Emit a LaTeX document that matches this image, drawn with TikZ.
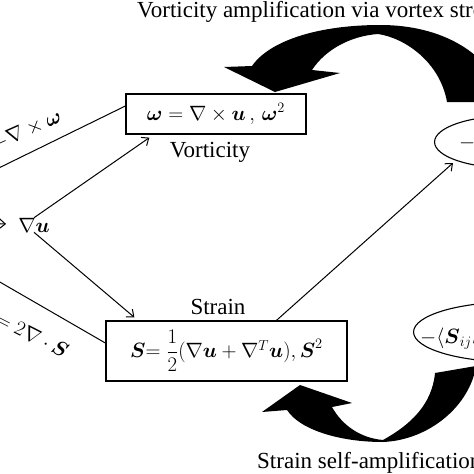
\documentclass[tikz,border=0pt]{standalone}
\usepackage{amsmath}
\usepackage{fontspec}
\setmainfont{Liberation Serif}
\usetikzlibrary{shapes.geometric,arrows.meta}

\begin{document}
\begin{tikzpicture}[x=1pt, y=-1pt, >={Straight Barb[length=6pt,width=10pt]},
  every node/.style={font=\fontsize{22}{26}\selectfont, inner sep=0pt},
  lbl/.style={font=\fontsize{23}{28}\selectfont},
  eqbox/.style={draw, line width=1.3pt},
  termoval/.style={draw, ellipse, line width=1.1pt, anchor=west},
  link/.style={line width=1pt}]
  \useasboundingbox (0,0) rectangle (474,474);
  \clip (0,0) rectangle (474,474);
  % equations
  \node[eqbox, minimum width=180pt, minimum height=40pt] (vort) at (216,114) {$\boldsymbol{\omega}=\nabla\times\boldsymbol{u}\,,\,\boldsymbol{\omega}^2$};
  \node[lbl, anchor=base] (vortlbl) at (210,157) {Vorticity};
  \node[eqbox, minimum width=241pt, minimum height=60pt] (strain) at (226.5,351) {$\boldsymbol{S}{=}\;\dfrac{1}{2}(\nabla\boldsymbol{u}+\nabla^{T}\boldsymbol{u}),\boldsymbol{S}^2$};
  \node[lbl, anchor=base] (strainlbl) at (218,314) {Strain};
  \node (gradu) at (34,225) {$\nabla\boldsymbol{u}$};
  \coordinate (uin) at (-20,223);
  \coordinate (curlin) at (-40,187);
  \coordinate (divin) at (-40,259);
  \node[rotate=24, anchor=base east] (curllbl) at (63,121) {$\nabla^2\boldsymbol{u}=-\nabla\times\boldsymbol{\omega}$};
  \node[rotate=-27, anchor=base east] (divlbl) at (64,359) {$\nabla^2\boldsymbol{u}=2\nabla\cdot\boldsymbol{S}$};
  % source terms
  \node[termoval, minimum width=150pt, minimum height=52pt] (stretch) at (434,142) {};
  \node[anchor=base west] (stretchtxt) at (459,148) {$-\;\langle\boldsymbol{\omega}_i\boldsymbol{S}_{ij}\boldsymbol{\omega}_j\rangle$};
  \node[termoval, minimum width=200pt, minimum height=60pt] (selfamp) at (413,332) {};
  \node[anchor=base west] (selfamptxt) at (420,343) {$-\langle\boldsymbol{S}_{ij}\boldsymbol{S}_{jk}\boldsymbol{S}_{ki}\rangle$};
  \node[lbl, anchor=base west] (toplbl) at (137,17) {Vorticity amplification via vortex stretching};
  \node[lbl, anchor=base west] (botlbl) at (257,468) {Strain self-amplification};
  % connectors
  \draw[link, ->, shorten >=12pt] (uin) -- (gradu);
  \draw[link, ->] (gradu.north) -- ([shift={(24,3)}]vort.south west);
  \draw[link, ->] (gradu.south) -- ([shift={(29,-3)}]strain.north west);
  \draw[link] (curlin) -- ([shift={(0,-8)}]vort.west);
  \draw[link] (divin) -- ([shift={(0,-8)}]strain.west);
  \draw[link, ->] ([xshift=50pt]strain.north) -- ([shift={(19,21)}]stretch.west);
  % feedback arrows
  \fill (312,70) .. controls (325,50) and (350,36) .. (378,34)
    .. controls (405,38) and (440,62) .. (447,102) -- (505,102)
    .. controls (495,60) and (450,25) .. (380,25)
    .. controls (320,25) and (270,40) .. (252,66)
    -- (224,67) -- (275,92) -- (340,73) -- cycle;
  \fill (332,407) .. controls (342,425) and (360,438) .. (383,440)
    .. controls (410,425) and (432,405) .. (435,373) -- (476,366)
    .. controls (470,405) and (430,440) .. (383,442)
    .. controls (340,442) and (300,430) .. (287,410)
    -- (262,412) -- (300,385) -- (352,403) -- cycle;
\end{tikzpicture}
\end{document}
